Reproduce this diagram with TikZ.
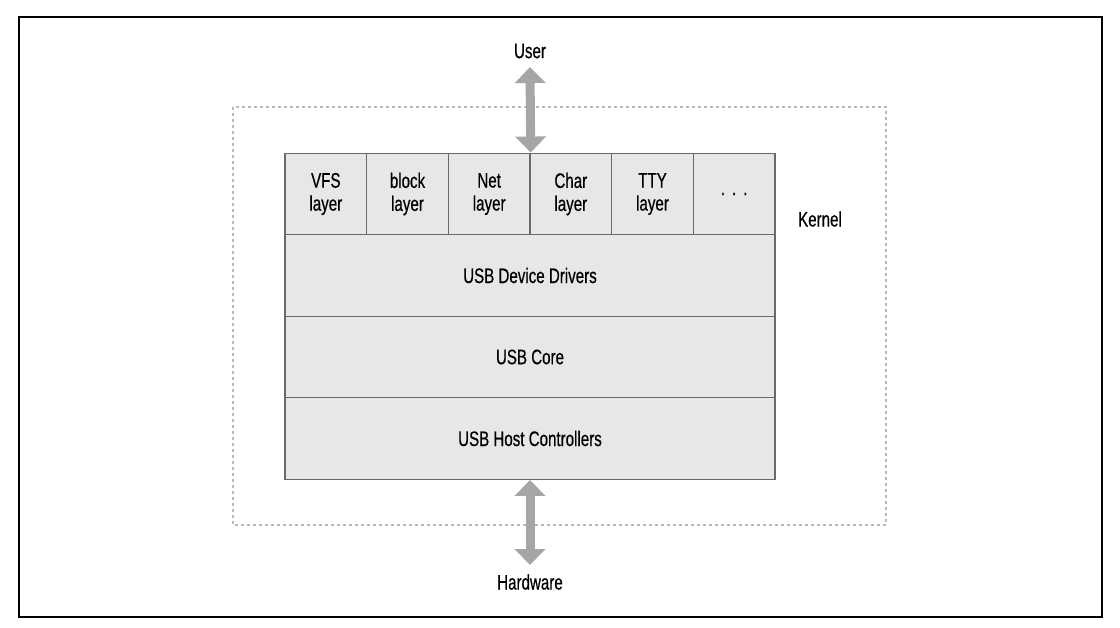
\documentclass[tikz,border=0pt]{standalone}
\usepackage{fontspec}
\setmainfont{Liberation Sans}[FakeStretch=0.72,FakeBold=0.5]
\usetikzlibrary{arrows.meta}
\definecolor{cellfill}{RGB}{230,231,232}
\definecolor{celldraw}{RGB}{105,105,105}
\definecolor{arrowgray}{RGB}{165,166,168}
\definecolor{dashgray}{RGB}{185,185,185}
\tikzset{
  cell/.style={draw=celldraw, fill=cellfill, line width=1.4pt, inner sep=0pt, align=center,
     font=\fontsize{21}{23}\selectfont},
  topcell/.style={cell, minimum width=81.67pt, minimum height=81.5pt},
  rowcell/.style={cell, minimum width=490pt, minimum height=81.5pt},
  lbl/.style={inner sep=0pt, font=\fontsize{21}{23}\selectfont},
  bigarrow/.style={draw=arrowgray, line width=9pt,
     {Triangle[width=30pt,length=16pt]}-{Triangle[width=30pt,length=16pt]}},
}
\begin{document}
\begin{tikzpicture}[x=1pt,y=-1pt]
\useasboundingbox (0,0) rectangle (1120,628);
\draw[line width=1.3pt] (19,17) rectangle (1102,617);
\draw[dashgray, line width=1.2pt, dash pattern=on 3pt off 3pt] (233,107) rectangle (886,525);
\node[topcell] (vfs)   at (325.83,194) {VFS\\layer};
\node[topcell] (block) at (407.5,194) {block\\layer};
\node[topcell] (net)   at (489.17,194) {Net\\layer};
\node[topcell] (char)  at (570.83,194) {Char\\layer};
\node[topcell] (tty)   at (652.5,194) {TTY\\layer};
\node[topcell] (dots)  at (734.17,194) {.\,\,.\,\,.};
\node[rowcell] (drivers) at (530,275.5) {USB Device Drivers};
\node[rowcell] (core)    at (530,357) {USB Core};
\node[rowcell] (host)    at (530,438.5) {USB Host Controllers};
\node[lbl] (user) at (530,51) {User};
\node[lbl] (hw)   at (530,582) {Hardware};
\node[lbl] (kernel) at (820,219) {Kernel};
\coordinate (utop) at (530,67);
\coordinate (hbot) at (530,565);
\draw[bigarrow] (utop) -- (net.north east);
\draw[bigarrow] (host.south) -- (hbot);
\end{tikzpicture}
\end{document}
